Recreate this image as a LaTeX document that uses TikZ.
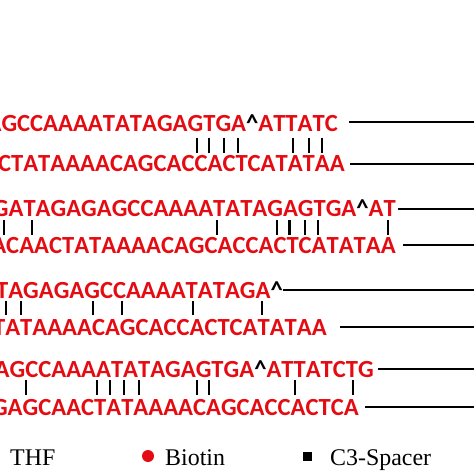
\documentclass[tikz,border=0pt]{standalone}
\usepackage{fontspec}
\setmainfont{Liberation Serif}
\newfontfamily\seqfont[Kerning=Off]{Carlito}
\definecolor{seqred}{RGB}{228,12,18}
\newcommand\thfmark{{\color{black}\textasciicircum}}
\begin{document}
\begin{tikzpicture}[x=1bp,y=-1bp,
  seq/.style={font=\seqfont\bfseries\fontsize{24.7}{26}\selectfont, text=seqred, inner sep=0pt, anchor=base east},
  strand/.style={line width=2bp, black},
  pair/.style={line width=1.6bp, black},
  legend/.style={font=\fontsize{24}{26}\selectfont, inner sep=0pt, anchor=base west}]
\useasboundingbox (0,0) rectangle (474,474);
\coordinate (R) at (474,0);
% Row 1
\node[seq] (t1) at (338,132) {GAGAGCCAAAATATAGAGTGA\thfmark ATTATC};
\node[seq] (b1) at (345,172) {CAACTATAAAACAGCACCACTCATATAA};
\draw[strand] ([xshift=11bp,yshift=2bp]t1.east) -- ([yshift=2bp]t1.east -| R);
\draw[strand] ([xshift=5bp]b1.east) -- (b1.east -| R);
\foreach \x in {197,209,224,238,293,309,322} \draw[pair] (\x,138) -- (\x,153);
% Row 2
\node[seq] (t2) at (396,217) {AGATAGAGAGCCAAAATATAGAGTGA\thfmark AT};
\node[seq] (b2) at (396,253) {ACAACTATAAAACAGCACCACTCATATAA};
\draw[strand] ([xshift=2bp]t2.east) -- (t2.east -| R);
\draw[strand] ([xshift=7bp]b2.east) -- (b2.east -| R);
\foreach \x in {4,32,217,277,305,318,388} \draw[pair] (\x,220) -- (\x,235);
\draw[line width=3bp] (289,220) -- (289,235);
% Row 3
\node[seq] (t3) at (283,298) {GATAGAGAGCCAAAATATAGA\thfmark};
\node[seq] (b3) at (327,335) {CTATAAAACAGCACCACTCATATAA};
\draw[strand] (t3.east) -- (t3.east -| R);
\draw[strand] ([xshift=13bp]b3.east) -- (b3.east -| R);
\foreach \x in {6,21,93,122,193,262} \draw[pair] (\x,301) -- (\x,315);
% Row 4
\node[seq] (t4) at (374,377) {GAGAGCCAAAATATAGAGTGA\thfmark ATTATCTG};
\node[seq] (b4) at (359,415) {AGAGCAACTATAAAACAGCACCACTCA};
\draw[strand] ([xshift=4bp]t4.east) -- (t4.east -| R);
\draw[strand] ([xshift=6bp]b4.east) -- (b4.east -| R);
\foreach \x in {26,97,110,124,139,197,209,295,353} \draw[pair] (\x,380) -- (\x,395);
% Legend
\node[legend] (thf) at (10,465) {THF};
\fill[seqred] (148,456) circle (6bp);
\node[legend] (bio) at (165,465) {Biotin};
\fill[black] (303,452) rectangle (312,461);
\node[legend] (c3) at (330,465) {C3-Spacer};
\end{tikzpicture}
\end{document}
